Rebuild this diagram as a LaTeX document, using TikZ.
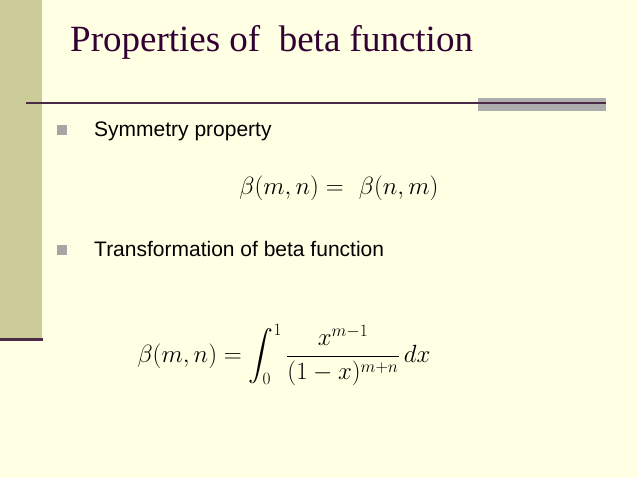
\documentclass[tikz,border=0pt]{standalone}
\usepackage{exscale}
\usepackage{fontspec}
\setmainfont{Liberation Serif}
\newfontfamily\arialf{Liberation Sans}
\begin{document}
\begin{tikzpicture}[x=1pt,y=-1pt,
  bul/.style={fill=black!35,minimum size=10pt,inner sep=0pt},
  btxt/.style={anchor=base west,font=\arialf\fontsize{21}{24}\selectfont,inner sep=0pt}]
\definecolor{bg}{HTML}{FFFFE3}
\definecolor{bar}{HTML}{CCCC99}
\definecolor{dk}{HTML}{4A2A44}
\definecolor{tt}{HTML}{330033}
\fill[bg] (0,0) rectangle (638,478);
\useasboundingbox (0,0) rectangle (638,478);
\fill[bar] (0,0) rectangle (42,340);
\fill[dk] (0,338.5) rectangle (43,341.5);
\fill[black!32] (478,98) rectangle (606,111);
\fill[dk] (26,102.5) rectangle (606,104.5);
\node[anchor=base west,text=tt,font=\fontsize{37}{40}\selectfont,inner sep=0pt] (title) at (70,52) {Properties of\ \ beta function};
\node[bul] (b1) at (62,130) {};
\node[btxt] (t1) at (94,137) {Symmetry property};
\node[font=\fontsize{33}{38}\selectfont] (e1) at (339,188) {$\beta(m,n) =\ \beta(n,m)$};
\node[bul] (b2) at (62,250) {};
\node[btxt] (t2) at (94,257) {Transformation of beta function};
\node[font=\fontsize{23}{28}\selectfont] (e2) at (284,355) {$\displaystyle \beta(m,n) = \int_0^1 \frac{x^{m-1}}{(1-x)^{m+n}}\,dx$};
\end{tikzpicture}
\end{document}
